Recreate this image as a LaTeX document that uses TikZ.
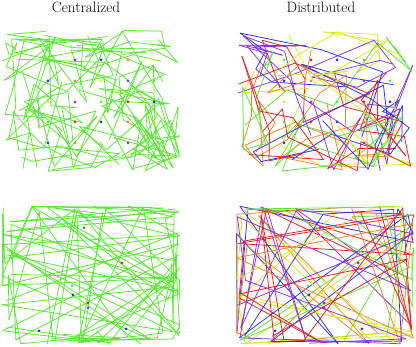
\documentclass[tikz,border=0pt]{standalone}
\usetikzlibrary{calc}

\definecolor{trajgreen}{RGB}{85,230,45}
\definecolor{col0}{RGB}{85,230,45}
\definecolor{col1}{RGB}{235,25,25}
\definecolor{col2}{RGB}{35,45,235}
\definecolor{col3}{RGB}{245,125,35}
\definecolor{col4}{RGB}{215,235,25}
\definecolor{col5}{RGB}{135,45,235}

% random point close to one side of a panel: name, x0, y0, width, height
\newcommand\edgept[5]{%
  \pgfmathtruncatemacro\edgeno{random(1,4)}%
  \pgfmathsetmacro\along{rnd}%
  \pgfmathsetmacro\inset{16*rnd*rnd}%
  \ifcase\edgeno\or
    \coordinate (#1) at ({#2+\along*#4},{#3+\inset});
  \or
    \coordinate (#1) at ({#2+#4-\inset},{#3+\along*#5});
  \or
    \coordinate (#1) at ({#2+\along*#4},{#3+#5-\inset});
  \or
    \coordinate (#1) at ({#2+\inset},{#3+\along*#5});
  \fi}

% one step of a random walk, mirrored back into the panel: name, x0, y0, width, height
\newcommand\walkpt[5]{%
  \pgfmathsetmacro\ang{360*rnd}%
  \pgfmathsetmacro\len{25+60*rnd}%
  \pgfmathsetmacro\nx{\cx+\len*cos(\ang)}%
  \pgfmathsetmacro\ny{\cy+\len*sin(\ang)}%
  \pgfmathsetmacro\nx{\nx<#2 ? 2*#2-\nx : (\nx>#2+#4 ? 2*(#2+#4)-\nx : \nx)}%
  \pgfmathsetmacro\ny{\ny<#3 ? 2*#3-\ny : (\ny>#3+#5 ? 2*(#3+#5)-\ny : \ny)}%
  \xdef\cx{\nx}\xdef\cy{\ny}%
  \coordinate (#1) at (\cx,\cy);}

\begin{document}
\begin{tikzpicture}[
  x=1pt,y=-1pt,
  traj/.style={line width=0.75pt,line join=round,line cap=round},
  robot/.style={circle,fill,inner sep=0pt,minimum size=3pt},
  titel/.style={font=\fontsize{15}{17}\selectfont,anchor=base}
]
\useasboundingbox (0,0) rectangle (416,347);

\node[titel] (tc) at (86,13) {Centralized};
\node[titel] (td) at (321,13) {Distributed};

% top row: 5x5 robots
\pgfmathsetseed{11}
\foreach \r in {1,...,25}{
  \pgfmathsetmacro\sx{2+178*rnd}\pgfmathsetmacro\sy{30+142*rnd}
  \xdef\cx{\sx}\xdef\cy{\sy}
  \coordinate (u0) at (\cx,\cy);
  \foreach \k [remember=\k as \lastk (initially 0)] in {1,...,7}{
    \walkpt{u\k}{2}{30}{178}{142}
    \draw[traj,trajgreen] (u\lastk) -- (u\k);
  }
}
\pgfmathsetseed{23}
\foreach \r in {1,...,25}{
  \pgfmathtruncatemacro\ci{mod(\r,6)}
  \pgfmathsetmacro\sx{236+178*rnd}\pgfmathsetmacro\sy{30+142*rnd}
  \xdef\cx{\sx}\xdef\cy{\sy}
  \coordinate (v0) at (\cx,\cy);
  \foreach \k [remember=\k as \lastk (initially 0)] in {1,...,7}{
    \walkpt{v\k}{236}{30}{178}{142}
    \draw[traj,col\ci] (v\lastk) -- (v\k);
  }
}
\foreach \i/\px in {0/48,1/75,2/101,3/128,4/154}{
  \foreach \j/\py in {0/60,1/81,2/102,3/122,4/143}{
    \pgfmathtruncatemacro\ci{mod(\i+2*\j,6)}
    \node[robot,col\ci] (a\i\j) at (\px,\py) {};
    \node[robot,col\ci] (b\i\j) at (\px+236,\py) {};
  }
}

% bottom row: trajectories bouncing off the borders
\pgfmathsetseed{5}
\foreach \r in {1,...,13}{
  \edgept{q0}{2}{206}{178}{138}
  \foreach \k [remember=\k as \lastk (initially 0)] in {1,...,7}{
    \edgept{q\k}{2}{206}{178}{138}
    \draw[traj,trajgreen] (q\lastk) -- (q\k);
  }
}
\pgfmathsetseed{17}
\foreach \r in {1,...,13}{
  \pgfmathtruncatemacro\ci{mod(\r,6)}
  \edgept{p0}{236}{206}{178}{138}
  \foreach \k [remember=\k as \lastk (initially 0)] in {1,...,7}{
    \edgept{p\k}{236}{206}{178}{138}
    \draw[traj,col\ci] (p\lastk) -- (p\k);
  }
}
\foreach \n/\px/\py/\ci in {1/84/228/5,2/122/263/1,3/72/286/0,4/73/295/2,
    5/88/303/1,6/88/308/5,7/39/331/2,8/126/329/2}{
  \node[robot,col\ci] (c\n) at (\px,\py) {};
  \node[robot,col\ci] (d\n) at (\px+236,\py) {};
}
\end{tikzpicture}
\end{document}
